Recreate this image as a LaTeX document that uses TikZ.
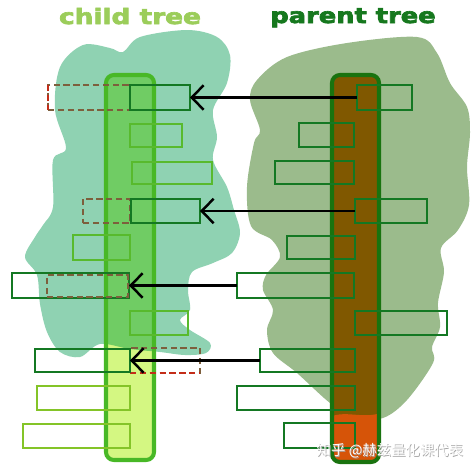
\documentclass[tikz,border=0pt]{standalone}
\usepackage{fontspec}
\usepackage{graphicx}
\usetikzlibrary{arrows.meta}
\newfontfamily\titlefont{DejaVu Sans}[BoldFeatures={FakeBold=3}]
\newfontfamily\cjkfont{Noto Sans CJK SC}
\definecolor{childtitle}{RGB}{155,205,90}
\definecolor{parenttitle}{RGB}{22,120,30}
\definecolor{childblob}{RGB}{143,210,178}
\definecolor{parentblob}{RGB}{155,187,140}
\definecolor{ctrunkhi}{RGB}{112,204,100}
\definecolor{ctrunklo}{RGB}{212,247,130}
\definecolor{ctrunkline}{RGB}{72,184,38}
\definecolor{ptrunkfill}{RGB}{128,88,0}
\definecolor{ptrunkline}{RGB}{25,115,15}
\definecolor{ptrunkorange}{RGB}{214,84,8}
\definecolor{darkbox}{RGB}{20,120,35}
\definecolor{lightbox}{RGB}{88,186,45}
\definecolor{yellowbox}{RGB}{132,196,40}
\definecolor{dashbrown}{RGB}{125,95,60}
\definecolor{dashred}{RGB}{195,45,25}
\tikzset{
  darkb/.style={draw=darkbox, line width=1.6pt, inner sep=0pt, outer sep=0pt},
  lightb/.style={draw=lightbox, line width=1.6pt, inner sep=0pt, outer sep=0pt},
  yellowb/.style={draw=yellowbox, line width=1.6pt, inner sep=0pt, outer sep=0pt},
  dashb/.style={draw=dashbrown, line width=1.6pt, dash pattern=on 3.6pt off 2pt, inner sep=0pt, outer sep=0pt},
  redseg/.style={draw=dashred, line width=1.6pt, dash pattern=on 3.6pt off 2pt},
  arr/.style={draw=black, line width=1.4pt, -{Straight Barb[length=6.8pt,width=14pt]}},
}
\newcommand\bx[6]{\node[#6, minimum width={(#4-#2)*0.02cm}, minimum height={(#5-#3)*0.02cm}] (#1) at ({(#2+#4)/2},{(#3+#5)/2}) {};}
\begin{document}
\begin{tikzpicture}[x=0.02cm, y=-0.02cm]
\useasboundingbox (0,0) rectangle (474,474);
% blobs
\fill[parentblob] plot[smooth cycle, tension=0.55] coordinates {(257,80) (287,57) (347,43) (417,37) (437,53) (450,83) (467,107) (470,133) (467,167) (469,205) (458,230) (441,248) (444,272) (438,303) (440,327) (432,347) (433,363) (407,400) (383,418) (355,418) (330,403) (297,373) (273,353) (267,330) (273,310) (263,290) (266,275) (280,257) (272,240) (251,226) (247,187) (254,143) (260,130) (250,100)};
\fill[childblob] plot[smooth cycle, tension=0.55] coordinates {(60,67) (83,45) (110,48) (123,52) (140,37) (187,30) (217,37) (230,55) (227,83) (213,110) (217,137) (213,160) (227,187) (234,210) (240,233) (232,253) (213,263) (192,272) (188,290) (190,310) (180,320) (190,330) (210,343) (206,353) (185,355) (160,352) (130,349) (100,344) (80,357) (60,352) (47,332) (40,304) (37,275) (25,257) (35,237) (43,225) (53,207) (53,160) (66,148) (55,110)};
% child trunk
\fill[ctrunklo, rounded corners=4.5pt] (106,75) rectangle (154,460);
\begin{scope}
\clip plot[smooth cycle, tension=0.55] coordinates {(60,67) (83,45) (110,48) (123,52) (140,37) (187,30) (217,37) (230,55) (227,83) (213,110) (217,137) (213,160) (227,187) (234,210) (240,233) (232,253) (213,263) (192,272) (188,290) (190,310) (180,320) (190,330) (210,343) (206,353) (185,355) (160,352) (130,349) (100,344) (80,357) (60,352) (47,332) (40,304) (37,275) (25,257) (35,237) (43,225) (53,207) (53,160) (66,148) (55,110)};
\fill[ctrunkhi, rounded corners=4.5pt] (106,75) rectangle (154,460);
\end{scope}
\draw[ctrunkline, line width=2.3pt, rounded corners=4.5pt] (106,75) rectangle (154,460);
% parent trunk
\begin{scope}
\clip[rounded corners=4.5pt] (332,75) rectangle (379,462);
\fill[ptrunkfill] (332,75) rectangle (379,462);
\fill[ptrunkorange] (330,417) .. controls (345,410) and (362,419) .. (381,413) -- (381,465) -- (330,465) -- cycle;
\end{scope}
\draw[ptrunkline, line width=2.3pt, rounded corners=4.5pt] (332,75) rectangle (379,462);
% parent boxes
\bx{p1}{357}{85}{412}{110}{darkb}
\bx{p2}{299}{123}{354}{147}{darkb}
\bx{p3}{275}{161}{354}{184}{darkb}
\bx{p4}{355}{199}{427}{223}{darkb}
\bx{p5}{287}{236}{355}{259}{darkb}
\bx{p6}{237}{273}{354}{298}{darkb}
\bx{p7}{355}{311}{447}{335}{darkb}
\bx{p8}{260}{349}{355}{372}{darkb}
\bx{p9}{237}{386}{355}{410}{darkb}
\bx{p10}{284}{423}{355}{448}{darkb}
% child boxes
\bx{d1}{48}{85}{130}{110}{dashb}
\draw[redseg] (d1.north west) -- (d1.south west);
\bx{c1}{130}{85}{190}{110}{darkb}
\bx{c2}{130}{124}{182}{147}{lightb}
\bx{c3}{132}{162}{212}{184}{lightb}
\bx{d4}{83}{199}{130}{223}{dashb}
\bx{c4}{131}{199}{200}{223}{darkb}
\bx{c5}{73}{235}{130}{260}{lightb}
\bx{c6}{12}{273}{129}{298}{darkb}
\bx{d6}{47}{275}{128}{297}{dashb}
\bx{c7}{130}{311}{188}{335}{lightb}
\bx{d8}{130}{348}{200}{373}{dashb}
\draw[redseg] (d8.south west) -- (d8.south east);
\bx{c8}{35}{349}{130}{372}{darkb}
\bx{c9}{37}{386}{130}{410}{yellowb}
\bx{c10}{23}{424}{130}{448}{yellowb}
% arrows
\draw[arr] (p1.west) -- (c1.east);
\draw[arr] (p4.west) -- (c4.east);
\draw[arr] (p6.west) -- (c6.east);
\draw[arr] (p8.west) -- (c8.east);
% titles
\node[anchor=base, inner sep=0pt, text=childtitle] (tc) at (130,24) {\titlefont\bfseries\fontsize{12}{12}\selectfont\scalebox{1.25}[1]{child tree}};
\node[anchor=base, inner sep=0pt, text=parenttitle] (tp) at (353,23) {\titlefont\bfseries\fontsize{12}{12}\selectfont\scalebox{1.22}[1]{parent tree}};
% watermark
\node[inner sep=0pt, text=gray!70] (wms) at (390.8,451.8) {\cjkfont\fontsize{8.2}{8.2}\selectfont 知乎 @赫兹量化课代表};
\node[inner sep=0pt, text=white] (wm) at (390,451) {\cjkfont\fontsize{8.2}{8.2}\selectfont 知乎 @赫兹量化课代表};
\end{tikzpicture}
\end{document}
